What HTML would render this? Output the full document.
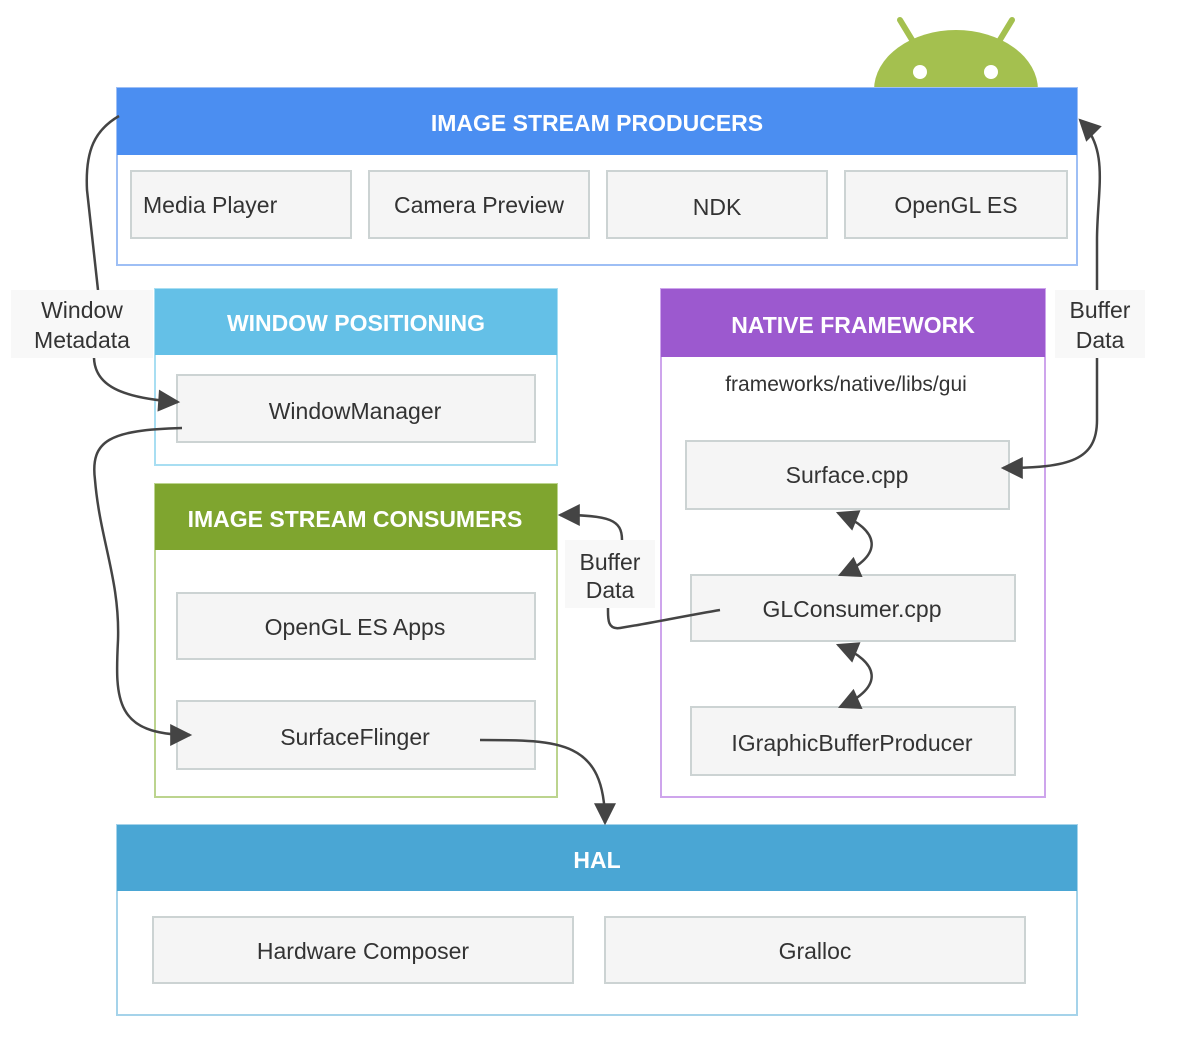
<!DOCTYPE html>
<html><head><style>
html,body{margin:0;padding:0;background:#fff;}
svg{display:block;font-family:"Liberation Sans",sans-serif;}
.h{fill:#fff;font-weight:bold;font-size:23px;text-anchor:middle;}
.b{fill:#f5f5f5;stroke:#ccd3d3;stroke-width:2;}
.t{fill:#333;font-size:23px;text-anchor:middle;}
.l{fill:none;stroke:#444;stroke-width:2.5;}
</style></head><body>
<svg width="1196" height="1056" viewBox="0 0 1196 1056">
<defs>
<marker id="A" viewBox="0 0 10 10" refX="9" refY="5" markerWidth="26" markerHeight="22" orient="auto-start-reverse" markerUnits="userSpaceOnUse"><path d="M0,0 L10,5 L0,10 z" fill="#444"/></marker></defs>
<!-- android -->
<line x1="900" y1="20" x2="917" y2="48" stroke="#a4c04f" stroke-width="6" stroke-linecap="round"/>
<line x1="1012" y1="20" x2="995" y2="48" stroke="#a4c04f" stroke-width="6" stroke-linecap="round"/>
<path d="M874,90 A82,60 0 0 1 1038,90 Z" fill="#a4c04f"/>
<circle cx="920" cy="72" r="7" fill="#fff"/><circle cx="991" cy="72" r="7" fill="#fff"/>
<!-- producers -->
<rect x="117" y="88" width="960" height="177" fill="#fff" stroke="#9ebff5" stroke-width="2"/>
<rect x="117" y="88" width="960" height="67" fill="#4b8ef1"/>
<text class="h" x="597" y="131">IMAGE STREAM PRODUCERS</text>
<rect class="b" x="131" y="171" width="220" height="67"/><text class="t" x="143" y="213" style="text-anchor:start">Media Player</text>
<rect class="b" x="369" y="171" width="220" height="67"/><text class="t" x="479" y="213">Camera Preview</text>
<rect class="b" x="607" y="171" width="220" height="67"/><text class="t" x="717" y="215">NDK</text>
<rect class="b" x="845" y="171" width="222" height="67"/><text class="t" x="956" y="213">OpenGL ES</text>
<!-- window positioning -->
<rect x="155" y="289" width="402" height="176" fill="#fff" stroke="#a8def2" stroke-width="2"/>
<rect x="155" y="289" width="402" height="66" fill="#64c0e7"/>
<text class="h" x="356" y="331">WINDOW POSITIONING</text>
<rect class="b" x="177" y="375" width="358" height="67"/><text class="t" x="355" y="419">WindowManager</text>
<!-- consumers -->
<rect x="155" y="484" width="402" height="313" fill="#fff" stroke="#bcd48e" stroke-width="2"/>
<rect x="155" y="484" width="402" height="66" fill="#7fa52f"/>
<text class="h" x="355" y="527">IMAGE STREAM CONSUMERS</text>
<rect class="b" x="177" y="593" width="358" height="66"/><text class="t" x="355" y="635">OpenGL ES Apps</text>
<rect class="b" x="177" y="701" width="358" height="68"/><text class="t" x="355" y="745">SurfaceFlinger</text>
<!-- native -->
<rect x="661" y="289" width="384" height="508" fill="#fff" stroke="#cea5ec" stroke-width="2"/>
<rect x="661" y="289" width="384" height="68" fill="#9c59cf"/>
<text class="h" x="853" y="333">NATIVE FRAMEWORK</text>
<text x="846" y="391" style="fill:#333;font-size:21px;text-anchor:middle">frameworks/native/libs/gui</text>
<rect class="b" x="686" y="441" width="323" height="68"/><text class="t" x="847" y="483">Surface.cpp</text>
<rect class="b" x="691" y="575" width="324" height="66"/><text class="t" x="852" y="617">GLConsumer.cpp</text>
<rect class="b" x="691" y="707" width="324" height="68"/><text class="t" x="852" y="751">IGraphicBufferProducer</text>
<!-- HAL -->
<rect x="117" y="825" width="960" height="190" fill="#fff" stroke="#a5d3ea" stroke-width="2"/>
<rect x="117" y="825" width="960" height="66" fill="#4aa6d4"/>
<text class="h" x="597" y="868">HAL</text>
<rect class="b" x="153" y="917" width="420" height="66"/><text class="t" x="363" y="959">Hardware Composer</text>
<rect class="b" x="605" y="917" width="420" height="66"/><text class="t" x="815" y="959">Gralloc</text>
<!-- connectors -->
<path class="l" d="M119,116 C95,130 85,150 87,190 L98,290"/>
<path class="l" d="M94,358 C95,385 120,398 178,402" marker-end="url(#A)"/>
<path class="l" d="M182,428 C110,430 90,440 95,480 C100,540 120,580 118,640 C115,700 115,735 190,735" marker-end="url(#A)"/>
<path class="l" d="M480,740 C560,740 605,740 605,823" marker-end="url(#A)"/>
<path class="l" d="M720,610 C690,615 640,625 620,628 C607,630 608,618 608,608"/>
<path class="l" d="M622,540 C622,520 610,515 560,515" marker-end="url(#A)"/>
<path class="l" d="M1097,297 L1097,240 C1097,190 1110,150 1080,120" marker-end="url(#A)"/>
<path class="l" d="M1097,357 L1097,420 C1097,460 1070,468 1003,468" marker-end="url(#A)"/>
<path class="l" d="M838,513 C880,530 885,555 840,575" marker-start="url(#A)" marker-end="url(#A)"/>
<path class="l" d="M838,645 C880,662 885,687 840,707" marker-start="url(#A)" marker-end="url(#A)"/>
<!-- labels -->
<rect x="11" y="290" width="142" height="68" fill="#f8f8f8"/>
<text class="t" x="82" y="318">Window</text><text class="t" x="82" y="348">Metadata</text>
<rect x="1055" y="290" width="90" height="68" fill="#f8f8f8"/>
<text class="t" x="1100" y="318">Buffer</text><text class="t" x="1100" y="348">Data</text>
<rect x="565" y="540" width="90" height="68" fill="#f8f8f8"/>
<text class="t" x="610" y="570">Buffer</text><text class="t" x="610" y="598">Data</text>
</svg>
</body></html>
